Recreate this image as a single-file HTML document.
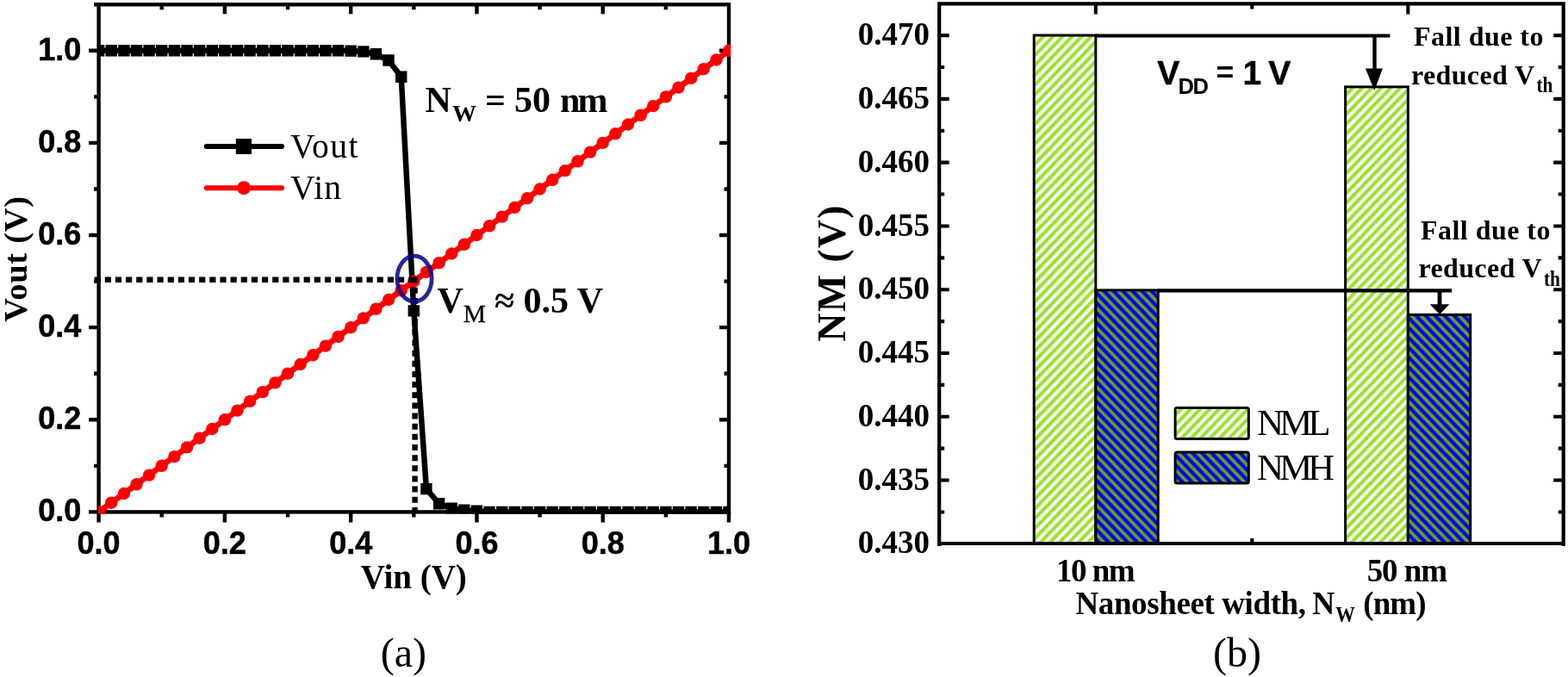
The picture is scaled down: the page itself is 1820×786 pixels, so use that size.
<!DOCTYPE html>
<html lang="en">
<head>
<meta charset="utf-8">
<title>Figure: VTC and noise margin</title>
<style>
html,body{margin:0;padding:0;background:#fff;}
body{width:1820px;height:786px;overflow:hidden;}
svg{display:block;}
text{white-space:pre;fill:#000;}
.serif-b{font-family:"Liberation Serif","Times New Roman",serif;font-weight:bold;}
.serif-r{font-family:"Liberation Serif","Times New Roman",serif;font-weight:normal;}
.sans-b{font-family:"Liberation Sans",Arial,sans-serif;font-weight:bold;}
.sans-r{font-family:"Liberation Sans",Arial,sans-serif;font-weight:normal;}
</style>
</head>
<body>
<svg width="1820" height="786" viewBox="0 0 1820 786">
<rect width="1820" height="786" fill="#fff"/>
<g id="plot-a">
<clipPath id="clipA"><rect x="114.10" y="5.24" width="733.90" height="591.16"/></clipPath>
<rect x="114.60" y="5.24" width="731.40" height="589.16" fill="none" stroke="#000" stroke-width="4.4"/>
<path d="M114.60 594.40h-11.5 M114.60 540.84h-5.5 M846.00 540.84h-5.5 M114.60 487.28h-11.5 M846.00 487.28h-11 M114.60 433.72h-5.5 M846.00 433.72h-5.5 M114.60 380.16h-11.5 M846.00 380.16h-11 M114.60 326.60h-5.5 M846.00 326.60h-5.5 M114.60 273.04h-11.5 M846.00 273.04h-11 M114.60 219.48h-5.5 M846.00 219.48h-5.5 M114.60 165.92h-11.5 M846.00 165.92h-11 M114.60 112.36h-5.5 M846.00 112.36h-5.5 M114.60 58.80h-11.5 M846.00 58.80h-11 M114.60 5.24h-5.5 M114.60 594.40v12 M187.74 594.40v6 M187.74 5.24v6 M260.88 594.40v12 M260.88 5.24v11 M334.02 594.40v6 M334.02 5.24v6 M407.16 594.40v12 M407.16 5.24v11 M480.30 594.40v6 M480.30 5.24v6 M553.44 594.40v12 M553.44 5.24v11 M626.58 594.40v6 M626.58 5.24v6 M699.72 594.40v12 M699.72 5.24v11 M772.86 594.40v6 M772.86 5.24v6 M846.00 594.40v12" stroke="#000" stroke-width="4.4" fill="none"/>
<g clip-path="url(#clipA)">
<polyline fill="none" stroke="#000" stroke-width="6.5" stroke-linejoin="round" points="114.6,58.8 129.2,58.8 143.9,58.8 158.5,58.8 173.1,58.8 187.7,58.8 202.4,58.8 217.0,58.8 231.6,58.8 246.3,58.8 260.9,58.8 275.5,58.8 290.1,58.8 304.8,58.8 319.4,58.8 334.0,58.8 348.6,58.8 363.3,58.8 377.9,58.8 392.5,58.8 407.2,59.1 421.8,59.9 436.4,62.8 451.0,70.0 465.7,89.3 480.3,360.9 494.9,567.6 509.6,584.8 524.2,590.1 538.8,592.3 553.4,593.3 568.1,594.4 582.7,594.4 597.3,594.4 612.0,594.4 626.6,594.4 641.2,594.4 655.8,594.4 670.5,594.4 685.1,594.4 699.7,594.4 714.3,594.4 729.0,594.4 743.6,594.4 758.2,594.4 772.9,594.4 787.5,594.4 802.1,594.4 816.7,594.4 831.4,594.4 846.0,594.4"/>
<path d="M107.9 52.1h13.4v13.4h-13.4zM122.5 52.1h13.4v13.4h-13.4zM137.2 52.1h13.4v13.4h-13.4zM151.8 52.1h13.4v13.4h-13.4zM166.4 52.1h13.4v13.4h-13.4zM181.0 52.1h13.4v13.4h-13.4zM195.7 52.1h13.4v13.4h-13.4zM210.3 52.1h13.4v13.4h-13.4zM224.9 52.1h13.4v13.4h-13.4zM239.6 52.1h13.4v13.4h-13.4zM254.2 52.1h13.4v13.4h-13.4zM268.8 52.1h13.4v13.4h-13.4zM283.4 52.1h13.4v13.4h-13.4zM298.1 52.1h13.4v13.4h-13.4zM312.7 52.1h13.4v13.4h-13.4zM327.3 52.1h13.4v13.4h-13.4zM341.9 52.1h13.4v13.4h-13.4zM356.6 52.1h13.4v13.4h-13.4zM371.2 52.1h13.4v13.4h-13.4zM385.8 52.1h13.4v13.4h-13.4zM400.5 52.4h13.4v13.4h-13.4zM415.1 53.2h13.4v13.4h-13.4zM429.7 56.1h13.4v13.4h-13.4zM444.3 63.3h13.4v13.4h-13.4zM459.0 82.6h13.4v13.4h-13.4zM473.6 354.2h13.4v13.4h-13.4zM488.2 560.9h13.4v13.4h-13.4zM502.9 578.1h13.4v13.4h-13.4zM517.5 583.4h13.4v13.4h-13.4zM532.1 585.6h13.4v13.4h-13.4zM546.7 586.6h13.4v13.4h-13.4zM561.4 587.7h13.4v13.4h-13.4zM576.0 587.7h13.4v13.4h-13.4zM590.6 587.7h13.4v13.4h-13.4zM605.3 587.7h13.4v13.4h-13.4zM619.9 587.7h13.4v13.4h-13.4zM634.5 587.7h13.4v13.4h-13.4zM649.1 587.7h13.4v13.4h-13.4zM663.8 587.7h13.4v13.4h-13.4zM678.4 587.7h13.4v13.4h-13.4zM693.0 587.7h13.4v13.4h-13.4zM707.6 587.7h13.4v13.4h-13.4zM722.3 587.7h13.4v13.4h-13.4zM736.9 587.7h13.4v13.4h-13.4zM751.5 587.7h13.4v13.4h-13.4zM766.2 587.7h13.4v13.4h-13.4zM780.8 587.7h13.4v13.4h-13.4zM795.4 587.7h13.4v13.4h-13.4zM810.0 587.7h13.4v13.4h-13.4zM824.7 587.7h13.4v13.4h-13.4zM839.3 587.7h13.4v13.4h-13.4z" fill="#000"/>
<polyline fill="none" stroke="#ff0000" stroke-width="6.8" points="114.6,594.4 129.2,583.7 143.9,573.0 158.5,562.3 173.1,551.6 187.7,540.8 202.4,530.1 217.0,519.4 231.6,508.7 246.3,498.0 260.9,487.3 275.5,476.6 290.1,465.9 304.8,455.1 319.4,444.4 334.0,433.7 348.6,423.0 363.3,412.3 377.9,401.6 392.5,390.9 407.2,380.2 421.8,369.4 436.4,358.7 451.0,348.0 465.7,337.3 480.3,326.6 494.9,315.9 509.6,305.2 524.2,294.5 538.8,283.8 553.4,273.0 568.1,262.3 582.7,251.6 597.3,240.9 612.0,230.2 626.6,219.5 641.2,208.8 655.8,198.1 670.5,187.3 685.1,176.6 699.7,165.9 714.3,155.2 729.0,144.5 743.6,133.8 758.2,123.1 772.9,112.4 787.5,101.6 802.1,90.9 816.7,80.2 831.4,69.5 846.0,58.8"/>
<g fill="#ff0000"><circle cx="114.6" cy="594.4" r="7.2"/><circle cx="129.2" cy="583.7" r="7.2"/><circle cx="143.9" cy="573.0" r="7.2"/><circle cx="158.5" cy="562.3" r="7.2"/><circle cx="173.1" cy="551.6" r="7.2"/><circle cx="187.7" cy="540.8" r="7.2"/><circle cx="202.4" cy="530.1" r="7.2"/><circle cx="217.0" cy="519.4" r="7.2"/><circle cx="231.6" cy="508.7" r="7.2"/><circle cx="246.3" cy="498.0" r="7.2"/><circle cx="260.9" cy="487.3" r="7.2"/><circle cx="275.5" cy="476.6" r="7.2"/><circle cx="290.1" cy="465.9" r="7.2"/><circle cx="304.8" cy="455.1" r="7.2"/><circle cx="319.4" cy="444.4" r="7.2"/><circle cx="334.0" cy="433.7" r="7.2"/><circle cx="348.6" cy="423.0" r="7.2"/><circle cx="363.3" cy="412.3" r="7.2"/><circle cx="377.9" cy="401.6" r="7.2"/><circle cx="392.5" cy="390.9" r="7.2"/><circle cx="407.2" cy="380.2" r="7.2"/><circle cx="421.8" cy="369.4" r="7.2"/><circle cx="436.4" cy="358.7" r="7.2"/><circle cx="451.0" cy="348.0" r="7.2"/><circle cx="465.7" cy="337.3" r="7.2"/><circle cx="480.3" cy="326.6" r="7.2"/><circle cx="494.9" cy="315.9" r="7.2"/><circle cx="509.6" cy="305.2" r="7.2"/><circle cx="524.2" cy="294.5" r="7.2"/><circle cx="538.8" cy="283.8" r="7.2"/><circle cx="553.4" cy="273.0" r="7.2"/><circle cx="568.1" cy="262.3" r="7.2"/><circle cx="582.7" cy="251.6" r="7.2"/><circle cx="597.3" cy="240.9" r="7.2"/><circle cx="612.0" cy="230.2" r="7.2"/><circle cx="626.6" cy="219.5" r="7.2"/><circle cx="641.2" cy="208.8" r="7.2"/><circle cx="655.8" cy="198.1" r="7.2"/><circle cx="670.5" cy="187.3" r="7.2"/><circle cx="685.1" cy="176.6" r="7.2"/><circle cx="699.7" cy="165.9" r="7.2"/><circle cx="714.3" cy="155.2" r="7.2"/><circle cx="729.0" cy="144.5" r="7.2"/><circle cx="743.6" cy="133.8" r="7.2"/><circle cx="758.2" cy="123.1" r="7.2"/><circle cx="772.9" cy="112.4" r="7.2"/><circle cx="787.5" cy="101.6" r="7.2"/><circle cx="802.1" cy="90.9" r="7.2"/><circle cx="816.7" cy="80.2" r="7.2"/><circle cx="831.4" cy="69.5" r="7.2"/><circle cx="846.0" cy="58.8" r="7.2"/></g>
</g>
<line x1="109.6" y1="324.8" x2="482.0" y2="324.8" stroke="#000" stroke-width="6.4" stroke-dasharray="7.2 4.95"/>
<line x1="481.6" y1="321.6" x2="481.6" y2="596.0" stroke="#000" stroke-width="6.4" stroke-dasharray="7 5.15"/>
<ellipse cx="481.0" cy="323.6" rx="20.1" ry="26.4" fill="none" stroke="#00008b" stroke-width="4.8" opacity="0.85"/>
<text class="sans-b" x="94.30" y="605.40" font-size="36" text-anchor="end" stroke="#000" stroke-width="0.5">0.0</text>
<text class="sans-b" x="114.60" y="642.70" font-size="36" text-anchor="middle" stroke="#000" stroke-width="0.5">0.0</text>
<text class="sans-b" x="94.30" y="498.28" font-size="36" text-anchor="end" stroke="#000" stroke-width="0.5">0.2</text>
<text class="sans-b" x="260.88" y="642.70" font-size="36" text-anchor="middle" stroke="#000" stroke-width="0.5">0.2</text>
<text class="sans-b" x="94.30" y="391.16" font-size="36" text-anchor="end" stroke="#000" stroke-width="0.5">0.4</text>
<text class="sans-b" x="407.16" y="642.70" font-size="36" text-anchor="middle" stroke="#000" stroke-width="0.5">0.4</text>
<text class="sans-b" x="94.30" y="284.04" font-size="36" text-anchor="end" stroke="#000" stroke-width="0.5">0.6</text>
<text class="sans-b" x="553.44" y="642.70" font-size="36" text-anchor="middle" stroke="#000" stroke-width="0.5">0.6</text>
<text class="sans-b" x="94.30" y="176.92" font-size="36" text-anchor="end" stroke="#000" stroke-width="0.5">0.8</text>
<text class="sans-b" x="699.72" y="642.70" font-size="36" text-anchor="middle" stroke="#000" stroke-width="0.5">0.8</text>
<text class="sans-b" x="94.30" y="69.80" font-size="36" text-anchor="end" stroke="#000" stroke-width="0.5">1.0</text>
<text class="sans-b" x="846.00" y="642.70" font-size="36" text-anchor="middle" stroke="#000" stroke-width="0.5">1.0</text>
<text class="serif-b" x="480.30" y="683.20" font-size="39" text-anchor="middle">Vin (V)</text>
<text class="serif-b" x="0.00" y="0.00" font-size="38.5" text-anchor="middle" textLength="146.00" lengthAdjust="spacing" transform="translate(30.5 300.8) rotate(-90)">Vout (V)</text>
<text class="serif-r" x="468.30" y="773.70" font-size="48" text-anchor="middle">(a)</text>
<line x1="239.8" y1="170" x2="327" y2="170" stroke="#000" stroke-width="6" stroke-linecap="round"/>
<rect x="273.8" y="161" width="18.2" height="18" fill="#000"/>
<line x1="239.8" y1="218.2" x2="327" y2="218.2" stroke="#ff0000" stroke-width="6" stroke-linecap="round"/>
<circle cx="283" cy="218.2" r="8" fill="#ff0000"/>
<text class="serif-r" x="337.00" y="182.70" font-size="39.5" textLength="78.50" lengthAdjust="spacing">Vout</text>
<text class="serif-r" x="337.00" y="231.00" font-size="39.5" textLength="59.00" lengthAdjust="spacing">Vin</text>
<text class="serif-b" x="493.50" y="129.80" font-size="42">N</text>
<text class="serif-b" x="525.00" y="140.50" font-size="28">W</text>
<text class="serif-b" x="563.00" y="129.80" font-size="42">=</text>
<text class="serif-b" x="597.00" y="129.80" font-size="42">50</text>
<text class="serif-b" x="650.00" y="129.80" font-size="42" textLength="55.60" lengthAdjust="spacing">nm</text>
<text class="serif-b" x="507.50" y="363.40" font-size="42">V</text>
<text class="serif-r" x="537.80" y="374.00" font-size="29.5" stroke="#000" stroke-width="0.3">M</text>
<text class="serif-b" x="574.00" y="363.40" font-size="42">≈ 0.5 V</text>
</g>
<g id="plot-b">
<defs>
<pattern id="hatchL1" patternUnits="userSpaceOnUse" width="40" height="7.95" patternTransform="translate(1201.2 52.7) rotate(-46.0) translate(0 -3.975)"><rect width="40" height="7.95" fill="#fff"/><rect y="1.925" width="40" height="4.1" fill="#9be22d"/></pattern>
<pattern id="hatchL2" patternUnits="userSpaceOnUse" width="40" height="7.95" patternTransform="translate(1563.0 452.6) rotate(-46.0) translate(0 -3.975)"><rect width="40" height="7.95" fill="#fff"/><rect y="1.925" width="40" height="4.1" fill="#9be22d"/></pattern>
<pattern id="hatchH1" patternUnits="userSpaceOnUse" width="40" height="7.95" patternTransform="translate(1273.5 341.1) rotate(46.0) translate(0 -3.975)"><rect width="40" height="7.95" fill="#6ba510"/><rect y="1.825" width="40" height="4.3" fill="#0000ff"/></pattern>
<pattern id="hatchH2" patternUnits="userSpaceOnUse" width="40" height="7.95" patternTransform="translate(1636.0 370.0) rotate(46.0) translate(0 -3.975)"><rect width="40" height="7.95" fill="#6ba510"/><rect y="1.825" width="40" height="4.3" fill="#0000ff"/></pattern>
<pattern id="hatchLl" patternUnits="userSpaceOnUse" width="40" height="7.95" patternTransform="translate(1366.0 480.0) rotate(-46.0) translate(0 -3.975)"><rect width="40" height="7.95" fill="#fff"/><rect y="1.925" width="40" height="4.1" fill="#9be22d"/></pattern>
<pattern id="hatchHl" patternUnits="userSpaceOnUse" width="40" height="7.95" patternTransform="translate(1366.0 530.0) rotate(46.0) translate(0 -3.975)"><rect width="40" height="7.95" fill="#6ba510"/><rect y="1.825" width="40" height="4.3" fill="#0000ff"/></pattern>
</defs>
<path d="M1271.80 4.40v12 M1634.30 4.40v12 M1453.3 4.40v6 M1453.3 631.00v-6 M1090.20 594.45h6 M1814.70 594.45h-6 M1090.20 557.56h11.5 M1814.70 557.56h-11.5 M1090.20 520.67h6 M1814.70 520.67h-6 M1090.20 483.78h11.5 M1814.70 483.78h-11.5 M1090.20 446.89h6 M1814.70 446.89h-6 M1090.20 410.00h11.5 M1814.70 410.00h-11.5 M1090.20 373.11h6 M1814.70 373.11h-6 M1090.20 336.22h11.5 M1814.70 336.22h-11.5 M1090.20 299.33h6 M1814.70 299.33h-6 M1090.20 262.44h11.5 M1814.70 262.44h-11.5 M1090.20 225.55h6 M1814.70 225.55h-6 M1090.20 188.66h11.5 M1814.70 188.66h-11.5 M1090.20 151.77h6 M1814.70 151.77h-6 M1090.20 114.88h11.5 M1814.70 114.88h-11.5 M1090.20 77.99h6 M1814.70 77.99h-6 M1090.20 41.10h11.5 M1814.70 41.10h-11.5" stroke="#000" stroke-width="4.1" fill="none"/>
<rect x="1200.20" y="41.00" width="71.60" height="590.00" fill="url(#hatchL1)" stroke="#000" stroke-width="3"/>
<rect x="1271.80" y="336.90" width="72.40" height="294.10" fill="url(#hatchH1)" stroke="#000" stroke-width="3"/>
<rect x="1561.60" y="100.85" width="72.70" height="530.15" fill="url(#hatchL2)" stroke="#000" stroke-width="3"/>
<rect x="1634.30" y="365.40" width="72.40" height="265.60" fill="url(#hatchH2)" stroke="#000" stroke-width="3"/>
<path d="M1090.20 634.00V4.40H1814.70V634.00M1090.20 631.00H1814.70" fill="none" stroke="#000" stroke-width="4.2" stroke-linejoin="miter"/>
<line x1="1271.8" y1="41.4" x2="1613.4" y2="41.4" stroke="#000" stroke-width="4.0"/>
<line x1="1344.2" y1="337.4" x2="1685.1" y2="337.4" stroke="#000" stroke-width="4.2"/>
<path d="M1595.5 41.4V84" stroke="#000" stroke-width="4.4" fill="none"/>
<path d="M1584.9 79.5L1604.9 79.5L1595.3 104.9z" fill="#000"/>
<path d="M1671 337.4V356" stroke="#000" stroke-width="4.8" fill="none"/>
<path d="M1659.7 353.3L1682.3 353.3L1671 365z" fill="#000"/>
<text class="serif-b" x="1079.00" y="642.44" font-size="37" text-anchor="end">0.430</text>
<text class="serif-b" x="1079.00" y="568.66" font-size="37" text-anchor="end">0.435</text>
<text class="serif-b" x="1079.00" y="494.88" font-size="37" text-anchor="end">0.440</text>
<text class="serif-b" x="1079.00" y="421.10" font-size="37" text-anchor="end">0.445</text>
<text class="serif-b" x="1079.00" y="347.32" font-size="37" text-anchor="end">0.450</text>
<text class="serif-b" x="1079.00" y="273.54" font-size="37" text-anchor="end">0.455</text>
<text class="serif-b" x="1079.00" y="199.76" font-size="37" text-anchor="end">0.460</text>
<text class="serif-b" x="1079.00" y="125.98" font-size="37" text-anchor="end">0.465</text>
<text class="serif-b" x="1079.00" y="52.20" font-size="37" text-anchor="end">0.470</text>
<text class="serif-b" x="1271.80" y="675.00" font-size="37" text-anchor="middle" textLength="91.50" lengthAdjust="spacing">10 nm</text>
<text class="serif-b" x="1633.40" y="674.60" font-size="37" text-anchor="middle" textLength="93.50" lengthAdjust="spacing">50 nm</text>
<text class="serif-b" x="1248.50" y="712.50" font-size="37" textLength="267.50" lengthAdjust="spacing">Nanosheet width,</text>
<text class="serif-b" x="1523.30" y="712.50" font-size="37" textLength="26.00" lengthAdjust="spacingAndGlyphs">N</text>
<text class="serif-b" x="1550.20" y="722.20" font-size="26" textLength="22.50" lengthAdjust="spacingAndGlyphs">W</text>
<text class="serif-b" x="1582.30" y="712.50" font-size="37" textLength="73.30" lengthAdjust="spacing">(nm)</text>
<text class="serif-b" x="0.00" y="0.00" font-size="45.5" text-anchor="middle" textLength="158.00" lengthAdjust="spacing" transform="translate(981.2 317.5) rotate(-90)">NM (V)</text>
<text class="serif-r" x="1435.90" y="773.50" font-size="48" text-anchor="middle">(b)</text>
<text class="sans-b" x="1343.20" y="98.40" font-size="39" stroke="#000" stroke-width="0.5">V</text>
<text class="sans-b" x="1367.50" y="108.80" font-size="25.5" textLength="35.50" lengthAdjust="spacing">DD</text>
<text class="sans-b" x="1411.60" y="96.20" font-size="35.5">=</text>
<text class="sans-b" x="1442.50" y="98.40" font-size="39" stroke="#000" stroke-width="0.5">1</text>
<text class="sans-b" x="1472.30" y="98.40" font-size="39" stroke="#000" stroke-width="0.5">V</text>
<text class="serif-b" x="1641.00" y="53.40" font-size="32" textLength="150.50" lengthAdjust="spacing">Fall due to</text>
<text class="serif-b" x="1638.00" y="98.00" font-size="32" textLength="143.00" lengthAdjust="spacing">reduced V</text>
<text class="serif-b" x="1783.50" y="107.40" font-size="25.5" textLength="19.00" lengthAdjust="spacingAndGlyphs">th</text>
<text class="serif-b" x="1649.00" y="277.70" font-size="32" textLength="150.50" lengthAdjust="spacing">Fall due to</text>
<text class="serif-b" x="1646.50" y="322.30" font-size="32" textLength="143.00" lengthAdjust="spacing">reduced V</text>
<text class="serif-b" x="1792.00" y="331.90" font-size="25.5" textLength="19.00" lengthAdjust="spacingAndGlyphs">th</text>
<rect x="1364.1" y="473.5" width="85.2" height="36" rx="2" fill="url(#hatchLl)" stroke="#000" stroke-width="3"/>
<rect x="1364.1" y="524.9" width="85.2" height="36.2" rx="2" fill="url(#hatchHl)" stroke="#000" stroke-width="3"/>
<text class="serif-r" x="1459.00" y="505.00" font-size="43" textLength="85.50" lengthAdjust="spacing">NML</text>
<text class="serif-r" x="1459.00" y="556.70" font-size="43" textLength="90.00" lengthAdjust="spacing">NMH</text>
</g>
</svg>
</body>
</html>
